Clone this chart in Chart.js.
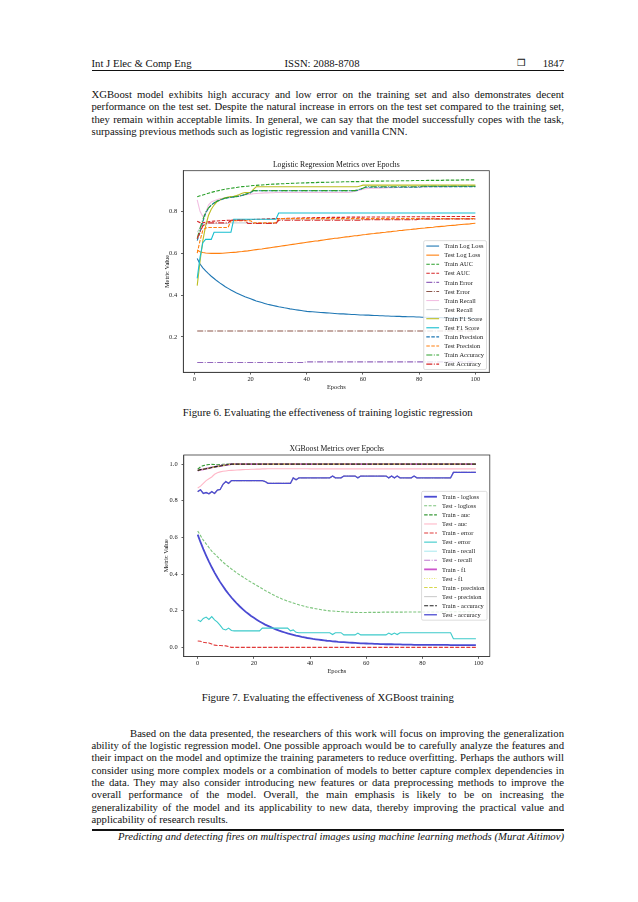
<!DOCTYPE html>
<html><head><meta charset="utf-8">
<script src="https://cdn.jsdelivr.net/npm/chart.js@4.4.1/dist/chart.umd.min.js"></script>
<style>
html,body{margin:0;padding:0;background:#fff}
body{width:638px;height:902px;position:relative;overflow:hidden;font-family:"Liberation Serif","Times New Roman",serif;color:#111}
.t{position:absolute;font-size:10.7px;line-height:12px;white-space:nowrap}
.rule{position:absolute;background:#111}
canvas{position:absolute}
</style></head>
<body>
<canvas id="c1" width="380" height="243" style="left:140px;top:152px;width:380px;height:243px"></canvas>
<canvas id="c2" width="380" height="243" style="left:140px;top:436px;width:380px;height:243px"></canvas>
<script>
// ---------------- DATA ----------------
const headerLeft = "Int J Elec & Comp Eng";
const headerMid = "ISSN: 2088-8708";
const headerPage = "1847";
const para1 = [
"XGBoost model exhibits high accuracy and low error on the training set and also demonstrates decent",
"performance on the test set. Despite the natural increase in errors on the test set compared to the training set,",
"they remain within acceptable limits. In general, we can say that the model successfully copes with the task,",
"surpassing previous methods such as logistic regression and vanilla CNN."];
const caption1 = "Figure 6. Evaluating the effectiveness of training logistic regression";
const caption2 = "Figure 7. Evaluating the effectiveness of XGBoost training";
const para2 = [
"Based on the data presented, the researchers of this work will focus on improving the generalization",
"ability of the logistic regression model. One possible approach would be to carefully analyze the features and",
"their impact on the model and optimize the training parameters to reduce overfitting. Perhaps the authors will",
"consider using more complex models or a combination of models to better capture complex dependencies in",
"the data. They may also consider introducing new features or data preprocessing methods to improve the",
"overall performance of the model. Overall, the main emphasis is likely to be on increasing the",
"generalizability of the model and its applicability to new data, thereby improving the practical value and",
"applicability of research results."];
const footerText = "Predicting and detecting fires on multispectral images using machine learning methods (Murat Aitimov)";

// Chart 1: Logistic Regression
const lrTitle = "Logistic Regression Metrics over Epochs";
const lrXTicks = [0,20,40,60,80,100];
const lrXTickLabels = ["0","20","40","60","80","100"];
const lrYTicks = [0.2,0.4,0.6,0.8];
const lrYTickLabels = ["0.2","0.4","0.6","0.8"];
const lrLabels = ["Train Log Loss","Test Log Loss","Train AUC","Test AUC","Train Error","Test Error","Train Recall","Test Recall","Train F1 Score","Test F1 Score","Train Precision","Test Precision","Train Accuracy","Test Accuracy"];
const lrEpochs = [1,2,3,4,5,6,7,8,9,10,11,12,13,14,15,16,17,18,19,20,21,22,23,24,25,26,27,28,29,30,31,32,33,34,35,36,37,38,39,40,41,42,43,44,45,46,47,48,49,50,51,52,53,54,55,56,57,58,59,60,61,62,63,64,65,66,67,68,69,70,71,72,73,74,75,76,77,78,79,80,81,82,83,84,85,86,87,88,89,90,91,92,93,94,95,96,97,98,99,100];
const lrTrainLogLoss = [0.575,0.548,0.530,0.515,0.502,0.490,0.479,0.468,0.458,0.449,0.440,0.432,0.424,0.417,0.410,0.404,0.398,0.392,0.387,0.382,0.377,0.372,0.368,0.364,0.360,0.356,0.353,0.350,0.347,0.344,0.342,0.339,0.337,0.334,0.332,0.330,0.328,0.326,0.324,0.322,0.321,0.320,0.319,0.318,0.317,0.316,0.315,0.314,0.313,0.312,0.311,0.310,0.310,0.309,0.308,0.307,0.307,0.306,0.305,0.305,0.304,0.304,0.303,0.302,0.302,0.301,0.301,0.300,0.300,0.299,0.299,0.298,0.298,0.297,0.297,0.296,0.296,0.296,0.295,0.295,0.294,0.294,0.294,0.293,0.293,0.292,0.292,0.292,0.291,0.291,0.291,0.290,0.290,0.290,0.289,0.289,0.289,0.288,0.288,0.288];
const lrTestLogLoss = [0.615,0.607,0.603,0.601,0.600,0.599,0.599,0.599,0.599,0.600,0.601,0.602,0.603,0.604,0.605,0.607,0.608,0.610,0.611,0.613,0.615,0.617,0.619,0.620,0.622,0.624,0.626,0.628,0.630,0.632,0.634,0.636,0.638,0.640,0.642,0.644,0.646,0.648,0.650,0.652,0.654,0.656,0.658,0.659,0.661,0.663,0.665,0.667,0.669,0.671,0.672,0.674,0.676,0.678,0.679,0.681,0.683,0.684,0.686,0.688,0.689,0.691,0.693,0.694,0.696,0.697,0.699,0.700,0.702,0.703,0.705,0.706,0.708,0.709,0.711,0.712,0.713,0.715,0.716,0.718,0.719,0.720,0.722,0.723,0.724,0.726,0.727,0.728,0.729,0.731,0.732,0.733,0.734,0.736,0.737,0.738,0.739,0.740,0.742,0.743];
const lrTrainAuc = [0.870,0.874,0.878,0.882,0.886,0.890,0.894,0.897,0.900,0.903,0.906,0.908,0.910,0.912,0.914,0.916,0.918,0.919,0.920,0.922,0.923,0.924,0.925,0.926,0.927,0.928,0.929,0.930,0.930,0.931,0.932,0.932,0.933,0.933,0.934,0.934,0.935,0.935,0.936,0.936,0.937,0.937,0.937,0.938,0.938,0.938,0.939,0.939,0.939,0.940,0.940,0.940,0.941,0.941,0.941,0.942,0.942,0.942,0.942,0.943,0.943,0.943,0.943,0.944,0.944,0.944,0.944,0.945,0.945,0.945,0.945,0.945,0.946,0.946,0.946,0.946,0.946,0.947,0.947,0.947,0.947,0.947,0.948,0.948,0.948,0.948,0.948,0.948,0.949,0.949,0.949,0.949,0.949,0.949,0.950,0.950,0.950,0.950,0.950,0.950];
const lrTestAuc = [0.752,0.746,0.745,0.748,0.750,0.752,0.753,0.754,0.755,0.756,0.756,0.757,0.757,0.758,0.758,0.759,0.759,0.760,0.760,0.761,0.761,0.762,0.762,0.763,0.763,0.764,0.764,0.765,0.765,0.766,0.766,0.766,0.767,0.767,0.767,0.768,0.768,0.768,0.769,0.769,0.769,0.769,0.770,0.770,0.770,0.770,0.770,0.771,0.771,0.771,0.771,0.771,0.771,0.772,0.772,0.772,0.772,0.772,0.772,0.772,0.773,0.773,0.773,0.773,0.773,0.773,0.773,0.773,0.773,0.773,0.773,0.773,0.774,0.774,0.774,0.774,0.774,0.774,0.774,0.774,0.774,0.774,0.774,0.774,0.774,0.775,0.775,0.775,0.775,0.775,0.775,0.775,0.775,0.775,0.775,0.775,0.775,0.775,0.775,0.775];
const lrTrainError = [0.078,0.078,0.078,0.078,0.078,0.078,0.078,0.078,0.078,0.078,0.078,0.078,0.078,0.078,0.078,0.078,0.078,0.078,0.078,0.078,0.078,0.078,0.078,0.078,0.078,0.078,0.078,0.078,0.078,0.078,0.078,0.078,0.078,0.078,0.078,0.078,0.078,0.078,0.078,0.081,0.081,0.081,0.081,0.081,0.081,0.081,0.081,0.081,0.081,0.081,0.081,0.081,0.081,0.081,0.081,0.081,0.081,0.081,0.081,0.081,0.081,0.081,0.081,0.081,0.081,0.081,0.081,0.081,0.081,0.081,0.081,0.081,0.081,0.081,0.081,0.081,0.081,0.081,0.081,0.081,0.081,0.081,0.081,0.081,0.081,0.081,0.081,0.081,0.081,0.081,0.081,0.081,0.081,0.081,0.081,0.081,0.081,0.081,0.081,0.081];
const lrTestError = [0.228,0.228,0.228,0.228,0.228,0.228,0.228,0.228,0.228,0.228,0.228,0.228,0.228,0.228,0.228,0.228,0.228,0.228,0.228,0.228,0.228,0.228,0.228,0.228,0.228,0.228,0.228,0.228,0.228,0.228,0.228,0.228,0.228,0.228,0.228,0.228,0.228,0.228,0.228,0.228,0.228,0.228,0.228,0.228,0.228,0.228,0.228,0.228,0.228,0.228,0.228,0.228,0.228,0.228,0.228,0.228,0.228,0.228,0.228,0.228,0.228,0.228,0.228,0.228,0.228,0.228,0.228,0.228,0.228,0.228,0.228,0.228,0.228,0.228,0.228,0.228,0.228,0.228,0.228,0.228,0.228,0.228,0.228,0.228,0.228,0.228,0.228,0.228,0.228,0.228,0.228,0.228,0.228,0.228,0.228,0.228,0.228,0.228,0.228,0.228];
const lrTrainRecall = [0.855,0.800,0.775,0.790,0.830,0.845,0.850,0.855,0.860,0.862,0.865,0.867,0.868,0.870,0.872,0.874,0.876,0.878,0.880,0.882,0.884,0.885,0.886,0.887,0.888,0.888,0.889,0.889,0.890,0.890,0.890,0.890,0.890,0.890,0.890,0.890,0.890,0.890,0.890,0.890,0.890,0.890,0.890,0.890,0.890,0.890,0.890,0.890,0.890,0.890,0.890,0.890,0.890,0.890,0.890,0.892,0.895,0.898,0.902,0.906,0.908,0.909,0.910,0.910,0.911,0.911,0.912,0.912,0.913,0.913,0.913,0.914,0.914,0.914,0.915,0.915,0.915,0.915,0.916,0.916,0.916,0.916,0.917,0.917,0.917,0.917,0.918,0.918,0.918,0.918,0.918,0.919,0.919,0.919,0.919,0.919,0.920,0.920,0.920,0.920];
const lrTestRecall = [0.700,0.720,0.735,0.740,0.742,0.742,0.742,0.742,0.742,0.742,0.742,0.742,0.745,0.745,0.745,0.745,0.745,0.745,0.745,0.745,0.745,0.745,0.745,0.745,0.745,0.745,0.745,0.745,0.745,0.762,0.762,0.762,0.762,0.762,0.762,0.762,0.762,0.762,0.762,0.762,0.762,0.762,0.762,0.762,0.762,0.762,0.762,0.762,0.762,0.762,0.762,0.762,0.762,0.762,0.762,0.762,0.762,0.762,0.762,0.762,0.762,0.762,0.762,0.762,0.762,0.762,0.762,0.762,0.762,0.762,0.762,0.762,0.762,0.762,0.762,0.762,0.762,0.762,0.762,0.762,0.762,0.762,0.762,0.762,0.762,0.762,0.762,0.762,0.765,0.765,0.765,0.765,0.765,0.765,0.765,0.765,0.765,0.765,0.765,0.765];
const lrTrainF1 = [0.445,0.560,0.660,0.730,0.780,0.810,0.830,0.845,0.853,0.860,0.865,0.868,0.870,0.872,0.876,0.880,0.886,0.890,0.890,0.890,0.905,0.917,0.917,0.917,0.917,0.917,0.917,0.917,0.917,0.917,0.917,0.917,0.917,0.917,0.917,0.917,0.917,0.917,0.917,0.917,0.917,0.917,0.917,0.917,0.917,0.917,0.917,0.917,0.917,0.917,0.917,0.917,0.917,0.917,0.917,0.917,0.917,0.917,0.921,0.925,0.925,0.925,0.925,0.925,0.925,0.925,0.925,0.925,0.925,0.925,0.925,0.925,0.925,0.925,0.925,0.925,0.925,0.925,0.925,0.925,0.925,0.925,0.925,0.925,0.925,0.925,0.925,0.925,0.925,0.925,0.925,0.925,0.925,0.925,0.925,0.925,0.925,0.925,0.925,0.925];
const lrTestF1 = [0.480,0.580,0.650,0.666,0.666,0.666,0.700,0.700,0.700,0.700,0.700,0.700,0.700,0.762,0.762,0.762,0.762,0.762,0.762,0.762,0.762,0.762,0.762,0.762,0.762,0.762,0.762,0.762,0.762,0.792,0.792,0.792,0.792,0.792,0.792,0.792,0.792,0.792,0.792,0.792,0.792,0.792,0.792,0.792,0.792,0.792,0.792,0.792,0.792,0.792,0.792,0.792,0.792,0.792,0.792,0.792,0.792,0.792,0.792,0.792,0.792,0.792,0.792,0.792,0.792,0.792,0.792,0.792,0.792,0.792,0.792,0.792,0.792,0.792,0.792,0.792,0.792,0.792,0.792,0.792,0.792,0.792,0.792,0.792,0.792,0.792,0.792,0.792,0.792,0.792,0.792,0.792,0.792,0.792,0.792,0.792,0.792,0.792,0.792,0.792];
const lrTrainPrecision = [0.660,0.700,0.750,0.790,0.815,0.830,0.840,0.848,0.853,0.858,0.862,0.865,0.866,0.868,0.870,0.872,0.876,0.880,0.885,0.890,0.898,0.898,0.898,0.898,0.898,0.898,0.898,0.898,0.898,0.898,0.898,0.898,0.898,0.898,0.898,0.898,0.898,0.898,0.898,0.898,0.898,0.898,0.898,0.898,0.898,0.898,0.898,0.898,0.898,0.898,0.898,0.898,0.898,0.898,0.898,0.898,0.898,0.900,0.905,0.910,0.915,0.915,0.915,0.915,0.915,0.915,0.915,0.915,0.915,0.915,0.915,0.915,0.915,0.915,0.915,0.915,0.915,0.915,0.915,0.915,0.918,0.918,0.918,0.918,0.918,0.918,0.918,0.918,0.918,0.918,0.918,0.918,0.918,0.918,0.918,0.918,0.918,0.918,0.918,0.918];
const lrTestPrecision = [0.600,0.660,0.710,0.720,0.723,0.723,0.723,0.723,0.723,0.723,0.723,0.723,0.755,0.755,0.755,0.755,0.755,0.755,0.755,0.755,0.745,0.745,0.745,0.745,0.745,0.745,0.745,0.745,0.745,0.765,0.765,0.765,0.765,0.765,0.765,0.765,0.765,0.765,0.765,0.765,0.765,0.765,0.765,0.765,0.765,0.765,0.765,0.765,0.765,0.765,0.765,0.765,0.765,0.765,0.765,0.765,0.765,0.765,0.765,0.765,0.765,0.765,0.765,0.765,0.765,0.765,0.765,0.765,0.765,0.765,0.765,0.765,0.765,0.765,0.765,0.765,0.765,0.765,0.765,0.765,0.765,0.765,0.765,0.765,0.765,0.765,0.765,0.765,0.765,0.765,0.765,0.765,0.765,0.765,0.765,0.765,0.765,0.765,0.765,0.765];
const lrTrainAccuracy = [0.670,0.720,0.760,0.795,0.815,0.830,0.840,0.848,0.855,0.860,0.863,0.866,0.867,0.869,0.871,0.873,0.876,0.880,0.885,0.888,0.899,0.899,0.899,0.899,0.899,0.899,0.899,0.899,0.899,0.899,0.899,0.899,0.899,0.899,0.899,0.899,0.899,0.899,0.899,0.899,0.899,0.899,0.899,0.899,0.899,0.899,0.899,0.899,0.899,0.899,0.899,0.899,0.899,0.899,0.899,0.899,0.899,0.902,0.906,0.910,0.917,0.917,0.917,0.917,0.917,0.917,0.917,0.917,0.917,0.917,0.917,0.917,0.917,0.917,0.917,0.917,0.917,0.917,0.917,0.917,0.920,0.920,0.920,0.920,0.920,0.920,0.920,0.920,0.920,0.920,0.920,0.920,0.920,0.920,0.920,0.920,0.920,0.920,0.920,0.920];
const lrTestAccuracy = [0.670,0.700,0.730,0.740,0.745,0.745,0.745,0.745,0.745,0.745,0.745,0.745,0.757,0.757,0.757,0.757,0.757,0.757,0.742,0.742,0.742,0.742,0.742,0.742,0.742,0.742,0.742,0.742,0.742,0.757,0.757,0.757,0.757,0.757,0.757,0.757,0.757,0.757,0.757,0.757,0.757,0.757,0.757,0.757,0.757,0.757,0.757,0.757,0.757,0.757,0.757,0.757,0.757,0.757,0.757,0.757,0.757,0.757,0.757,0.760,0.760,0.760,0.760,0.760,0.760,0.760,0.760,0.760,0.760,0.760,0.760,0.760,0.760,0.760,0.760,0.760,0.760,0.760,0.760,0.763,0.763,0.763,0.763,0.763,0.763,0.763,0.763,0.763,0.763,0.763,0.763,0.763,0.763,0.763,0.763,0.763,0.763,0.763,0.763,0.763];

// Chart 2: XGBoost
const xgbTitle = "XGBoost Metrics over Epochs";
const xgbXTicks = [0,20,40,60,80,100];
const xgbXTickLabels = ["0","20","40","60","80","100"];
const xgbYTicks = [0,0.2,0.4,0.6,0.8,1.0];
const xgbYTickLabels = ["0.0","0.2","0.4","0.6","0.8","1.0"];
const xgbLabels = ["Train - logloss","Test - logloss","Train - auc","Test - auc","Train - error","Test - error","Train - recall","Test - recall","Train - f1","Test - f1","Train - precision","Test - precision","Train - accuracy","Test - accuracy"];
const xgbEpochs = [0,1,2,3,4,5,6,7,8,9,10,11,12,13,14,15,16,17,18,19,20,21,22,23,24,25,26,27,28,29,30,31,32,33,34,35,36,37,38,39,40,41,42,43,44,45,46,47,48,49,50,51,52,53,54,55,56,57,58,59,60,61,62,63,64,65,66,67,68,69,70,71,72,73,74,75,76,77,78,79,80,81,82,83,84,85,86,87,88,89,90,91,92,93,94,95,96,97,98,99];
const xgbTrainLogloss = [0.615,0.574,0.536,0.501,0.468,0.437,0.408,0.381,0.356,0.333,0.311,0.291,0.272,0.255,0.238,0.223,0.209,0.195,0.183,0.171,0.161,0.151,0.141,0.133,0.124,0.117,0.110,0.103,0.097,0.091,0.086,0.081,0.076,0.072,0.068,0.064,0.061,0.057,0.054,0.051,0.049,0.046,0.044,0.042,0.040,0.038,0.036,0.035,0.033,0.032,0.030,0.029,0.028,0.027,0.026,0.025,0.024,0.023,0.022,0.022,0.021,0.020,0.020,0.019,0.019,0.018,0.018,0.017,0.017,0.017,0.016,0.016,0.016,0.015,0.015,0.015,0.015,0.014,0.014,0.014,0.014,0.014,0.013,0.013,0.013,0.013,0.013,0.013,0.013,0.013,0.012,0.012,0.012,0.012,0.012,0.012,0.012,0.012,0.012,0.012];
const xgbTestLogloss = [0.635,0.610,0.585,0.565,0.545,0.525,0.510,0.495,0.480,0.465,0.452,0.440,0.428,0.417,0.405,0.395,0.385,0.375,0.365,0.356,0.347,0.338,0.329,0.320,0.310,0.302,0.294,0.286,0.278,0.271,0.264,0.258,0.252,0.247,0.242,0.237,0.232,0.228,0.224,0.220,0.217,0.214,0.211,0.208,0.205,0.203,0.201,0.199,0.198,0.197,0.196,0.195,0.194,0.193,0.192,0.191,0.191,0.190,0.190,0.190,0.190,0.191,0.191,0.191,0.191,0.191,0.192,0.192,0.192,0.192,0.192,0.192,0.192,0.192,0.193,0.193,0.193,0.193,0.193,0.193,0.193,0.193,0.193,0.193,0.193,0.193,0.193,0.194,0.194,0.194,0.194,0.194,0.194,0.194,0.194,0.194,0.194,0.194,0.194,0.194];
const xgbTrainAuc = [0.972,0.985,0.992,0.996,0.998,0.999,0.998,0.997,0.998,0.999,1.000,1.000,1.000,1.000,1.000,1.000,1.000,1.000,1.000,1.000,1.000,1.000,1.000,1.000,1.000,1.000,1.000,1.000,1.000,1.000,1.000,1.000,1.000,1.000,1.000,1.000,1.000,1.000,1.000,1.000,1.000,1.000,1.000,1.000,1.000,1.000,1.000,1.000,1.000,1.000,1.000,1.000,1.000,1.000,1.000,1.000,1.000,1.000,1.000,1.000,1.000,1.000,1.000,1.000,1.000,1.000,1.000,1.000,1.000,1.000,1.000,1.000,1.000,1.000,1.000,1.000,1.000,1.000,1.000,1.000,1.000,1.000,1.000,1.000,1.000,1.000,1.000,1.000,1.000,1.000,1.000,1.000,1.000,1.000,1.000,1.000,1.000,1.000,1.000,1.000];
const xgbTestAuc = [0.870,0.880,0.895,0.910,0.920,0.930,0.945,0.953,0.958,0.961,0.963,0.965,0.966,0.967,0.968,0.969,0.970,0.971,0.971,0.972,0.972,0.973,0.973,0.974,0.974,0.975,0.975,0.975,0.975,0.975,0.975,0.975,0.975,0.975,0.975,0.975,0.975,0.975,0.975,0.975,0.974,0.974,0.974,0.974,0.974,0.974,0.974,0.974,0.974,0.974,0.974,0.974,0.974,0.974,0.974,0.974,0.974,0.974,0.974,0.974,0.974,0.974,0.974,0.974,0.974,0.974,0.974,0.974,0.974,0.974,0.974,0.974,0.974,0.974,0.974,0.974,0.974,0.974,0.974,0.974,0.974,0.974,0.974,0.974,0.974,0.974,0.974,0.974,0.974,0.974,0.974,0.974,0.974,0.974,0.974,0.974,0.974,0.974,0.974,0.974];
const xgbTrainError = [0.035,0.033,0.028,0.025,0.024,0.018,0.012,0.010,0.010,0.009,0.008,0.004,0.000,0.000,0.000,0.000,0.000,0.000,0.000,0.000,0.000,0.000,0.000,0.000,0.000,0.000,0.000,0.000,0.000,0.000,0.000,0.000,0.000,0.000,0.000,0.000,0.000,0.000,0.000,0.000,0.000,0.000,0.000,0.000,0.000,0.000,0.000,0.000,0.000,0.000,0.000,0.000,0.000,0.000,0.000,0.000,0.000,0.000,0.000,0.000,0.000,0.000,0.000,0.000,0.000,0.000,0.000,0.000,0.000,0.000,0.000,0.000,0.000,0.000,0.000,0.000,0.000,0.000,0.000,0.000,0.000,0.000,0.000,0.000,0.000,0.000,0.000,0.000,0.000,0.000,0.000,0.000,0.000,0.000,0.000,0.000,0.000,0.000,0.000,0.000];
const xgbTestError = [0.150,0.141,0.158,0.165,0.152,0.168,0.150,0.138,0.120,0.100,0.095,0.105,0.092,0.090,0.090,0.090,0.090,0.090,0.090,0.090,0.090,0.090,0.090,0.105,0.105,0.105,0.105,0.105,0.105,0.105,0.105,0.105,0.105,0.090,0.095,0.082,0.080,0.080,0.080,0.080,0.080,0.080,0.080,0.080,0.080,0.080,0.080,0.080,0.070,0.080,0.080,0.080,0.068,0.068,0.068,0.068,0.068,0.078,0.068,0.068,0.068,0.068,0.068,0.068,0.068,0.068,0.068,0.068,0.078,0.070,0.078,0.070,0.080,0.080,0.080,0.080,0.080,0.080,0.080,0.080,0.080,0.080,0.080,0.080,0.080,0.080,0.080,0.080,0.080,0.080,0.080,0.047,0.047,0.047,0.047,0.047,0.047,0.047,0.047,0.047];
const xgbTrainRecall = [0.965,0.970,0.972,0.975,0.978,0.982,0.985,0.988,0.990,0.993,0.995,0.998,1.000,1.000,1.000,1.000,1.000,1.000,1.000,1.000,1.000,1.000,1.000,1.000,1.000,1.000,1.000,1.000,1.000,1.000,1.000,1.000,1.000,1.000,1.000,1.000,1.000,1.000,1.000,1.000,1.000,1.000,1.000,1.000,1.000,1.000,1.000,1.000,1.000,1.000,1.000,1.000,1.000,1.000,1.000,1.000,1.000,1.000,1.000,1.000,1.000,1.000,1.000,1.000,1.000,1.000,1.000,1.000,1.000,1.000,1.000,1.000,1.000,1.000,1.000,1.000,1.000,1.000,1.000,1.000,1.000,1.000,1.000,1.000,1.000,1.000,1.000,1.000,1.000,1.000,1.000,1.000,1.000,1.000,1.000,1.000,1.000,1.000,1.000,1.000];
const xgbTestRecall = [0.850,0.860,0.840,0.845,0.838,0.850,0.840,0.858,0.862,0.890,0.905,0.895,0.910,0.910,0.910,0.910,0.910,0.910,0.910,0.910,0.910,0.910,0.910,0.910,0.905,0.895,0.895,0.895,0.895,0.895,0.895,0.895,0.895,0.895,0.925,0.915,0.925,0.925,0.925,0.925,0.925,0.925,0.925,0.925,0.925,0.925,0.925,0.925,0.935,0.925,0.925,0.925,0.935,0.935,0.935,0.935,0.935,0.925,0.935,0.935,0.935,0.935,0.935,0.935,0.935,0.935,0.935,0.935,0.925,0.935,0.925,0.935,0.925,0.925,0.925,0.925,0.925,0.935,0.925,0.925,0.925,0.925,0.925,0.925,0.925,0.925,0.925,0.925,0.925,0.925,0.925,0.955,0.955,0.955,0.955,0.955,0.955,0.955,0.955,0.955];
const xgbTrainF1 = [0.965,0.970,0.972,0.975,0.978,0.982,0.985,0.988,0.990,0.993,0.995,0.998,1.000,1.000,1.000,1.000,1.000,1.000,1.000,1.000,1.000,1.000,1.000,1.000,1.000,1.000,1.000,1.000,1.000,1.000,1.000,1.000,1.000,1.000,1.000,1.000,1.000,1.000,1.000,1.000,1.000,1.000,1.000,1.000,1.000,1.000,1.000,1.000,1.000,1.000,1.000,1.000,1.000,1.000,1.000,1.000,1.000,1.000,1.000,1.000,1.000,1.000,1.000,1.000,1.000,1.000,1.000,1.000,1.000,1.000,1.000,1.000,1.000,1.000,1.000,1.000,1.000,1.000,1.000,1.000,1.000,1.000,1.000,1.000,1.000,1.000,1.000,1.000,1.000,1.000,1.000,1.000,1.000,1.000,1.000,1.000,1.000,1.000,1.000,1.000];
const xgbTestF1 = [0.850,0.860,0.840,0.845,0.838,0.850,0.840,0.858,0.862,0.890,0.905,0.895,0.910,0.910,0.910,0.910,0.910,0.910,0.910,0.910,0.910,0.910,0.910,0.910,0.905,0.895,0.895,0.895,0.895,0.895,0.895,0.895,0.895,0.895,0.925,0.915,0.925,0.925,0.925,0.925,0.925,0.925,0.925,0.925,0.925,0.925,0.925,0.925,0.935,0.925,0.925,0.925,0.935,0.935,0.935,0.935,0.935,0.925,0.935,0.935,0.935,0.935,0.935,0.935,0.935,0.935,0.935,0.935,0.925,0.935,0.925,0.935,0.925,0.925,0.925,0.925,0.925,0.935,0.925,0.925,0.925,0.925,0.925,0.925,0.925,0.925,0.925,0.925,0.925,0.925,0.925,0.955,0.955,0.955,0.955,0.955,0.955,0.955,0.955,0.955];
const xgbTrainPrecision = [0.965,0.970,0.972,0.975,0.978,0.982,0.985,0.988,0.990,0.993,0.995,0.998,1.000,1.000,1.000,1.000,1.000,1.000,1.000,1.000,1.000,1.000,1.000,1.000,1.000,1.000,1.000,1.000,1.000,1.000,1.000,1.000,1.000,1.000,1.000,1.000,1.000,1.000,1.000,1.000,1.000,1.000,1.000,1.000,1.000,1.000,1.000,1.000,1.000,1.000,1.000,1.000,1.000,1.000,1.000,1.000,1.000,1.000,1.000,1.000,1.000,1.000,1.000,1.000,1.000,1.000,1.000,1.000,1.000,1.000,1.000,1.000,1.000,1.000,1.000,1.000,1.000,1.000,1.000,1.000,1.000,1.000,1.000,1.000,1.000,1.000,1.000,1.000,1.000,1.000,1.000,1.000,1.000,1.000,1.000,1.000,1.000,1.000,1.000,1.000];
const xgbTestPrecision = [0.850,0.860,0.840,0.845,0.838,0.850,0.840,0.858,0.862,0.890,0.905,0.895,0.910,0.910,0.910,0.910,0.910,0.910,0.910,0.910,0.910,0.910,0.910,0.910,0.905,0.895,0.895,0.895,0.895,0.895,0.895,0.895,0.895,0.895,0.925,0.915,0.925,0.925,0.925,0.925,0.925,0.925,0.925,0.925,0.925,0.925,0.925,0.925,0.935,0.925,0.925,0.925,0.935,0.935,0.935,0.935,0.935,0.925,0.935,0.935,0.935,0.935,0.935,0.935,0.935,0.935,0.935,0.935,0.925,0.935,0.925,0.935,0.925,0.925,0.925,0.925,0.925,0.935,0.925,0.925,0.925,0.925,0.925,0.925,0.925,0.925,0.925,0.925,0.925,0.925,0.925,0.955,0.955,0.955,0.955,0.955,0.955,0.955,0.955,0.955];
const xgbTrainAccuracy = [0.965,0.970,0.972,0.975,0.978,0.982,0.985,0.988,0.990,0.993,0.995,0.998,1.000,1.000,1.000,1.000,1.000,1.000,1.000,1.000,1.000,1.000,1.000,1.000,1.000,1.000,1.000,1.000,1.000,1.000,1.000,1.000,1.000,1.000,1.000,1.000,1.000,1.000,1.000,1.000,1.000,1.000,1.000,1.000,1.000,1.000,1.000,1.000,1.000,1.000,1.000,1.000,1.000,1.000,1.000,1.000,1.000,1.000,1.000,1.000,1.000,1.000,1.000,1.000,1.000,1.000,1.000,1.000,1.000,1.000,1.000,1.000,1.000,1.000,1.000,1.000,1.000,1.000,1.000,1.000,1.000,1.000,1.000,1.000,1.000,1.000,1.000,1.000,1.000,1.000,1.000,1.000,1.000,1.000,1.000,1.000,1.000,1.000,1.000,1.000];
const xgbTestAccuracy = [0.850,0.860,0.840,0.845,0.838,0.850,0.840,0.858,0.862,0.890,0.905,0.895,0.910,0.910,0.910,0.910,0.910,0.910,0.910,0.910,0.910,0.910,0.910,0.910,0.905,0.895,0.895,0.895,0.895,0.895,0.895,0.895,0.895,0.895,0.925,0.915,0.925,0.925,0.925,0.925,0.925,0.925,0.925,0.925,0.925,0.925,0.925,0.925,0.935,0.925,0.925,0.925,0.935,0.935,0.935,0.935,0.935,0.925,0.935,0.935,0.935,0.935,0.935,0.935,0.935,0.935,0.935,0.935,0.925,0.935,0.925,0.935,0.925,0.925,0.925,0.925,0.925,0.935,0.925,0.925,0.925,0.925,0.925,0.925,0.925,0.925,0.925,0.925,0.925,0.925,0.925,0.955,0.955,0.955,0.955,0.955,0.955,0.955,0.955,0.955];

// ---------------- PAGE TEXT ----------------
const COL_L = 91.5, COL_R = 564;
function addText(txt, opts) {
  const d = document.createElement('div');
  d.className = 't';
  d.textContent = txt;
  if (opts.italic) d.style.fontStyle = 'italic';
  if (opts.size) d.style.fontSize = opts.size + 'px';
  if (opts.font) d.style.fontFamily = opts.font;
  d.style.top = (opts.cy - 6.6) + 'px';
  document.body.appendChild(d);
  const w = d.getBoundingClientRect().width;
  let left = opts.left;
  if (opts.justifyTo !== undefined) {
    const spaces = (txt.match(/ /g) || []).length;
    if (spaces) d.style.wordSpacing = ((opts.justifyTo - opts.left - w) / spaces) + 'px';
  } else if (opts.right !== undefined) left = opts.right - w;
  else if (opts.center !== undefined) left = opts.center - w / 2;
  d.style.left = left + 'px';
  return d;
}
function addRule(x, y, w, h) {
  const r = document.createElement('div');
  r.className = 'rule';
  r.style.left = x + 'px'; r.style.top = y + 'px'; r.style.width = w + 'px'; r.style.height = h + 'px';
  document.body.appendChild(r);
}
// header
const HY = 64;
addText(headerLeft, {cy: HY, left: COL_L});
addText(headerMid, {cy: HY, center: 322});
addText(headerPage, {cy: HY, right: COL_R});
addText("\u2752", {cy: HY, left: 517, size: 9.5, font: '"DejaVu Sans"'});
addRule(COL_L, 70, COL_R - COL_L, 1.3);
// paragraph 1
const p1y = [94.5, 106.8, 119.1, 131.4];
para1.forEach((ln, i) => addText(ln, i < para1.length - 1 ? {cy: p1y[i], left: COL_L, justifyTo: COL_R} : {cy: p1y[i], left: COL_L}));
// captions
addText(caption1, {cy: 412.5, center: (COL_L + COL_R) / 2});
addText(caption2, {cy: 697.5, center: (COL_L + COL_R) / 2});
// paragraph 2
const p2y = [733.3, 745.6, 757.9, 770.2, 782.5, 794.8, 807.1, 819.4];
para2.forEach((ln, i) => {
  const l = i === 0 ? 130 : COL_L;
  addText(ln, i < para2.length - 1 ? {cy: p2y[i], left: l, justifyTo: COL_R} : {cy: p2y[i], left: l});
});
addRule(COL_L, 828.8, COL_R - COL_L, 2);
addText(footerText, {cy: 836.5, right: COL_R, italic: true});

// ---------------- CHARTS ----------------
const FONT = '"Liberation Serif","Times New Roman",serif';
const frameTitleLegend = {
  id: 'frameTitleLegend',
  afterDatasetsDraw(chart, args, o) {
    const {ctx, chartArea: a} = chart;
    ctx.save();
    ctx.strokeStyle = '#3a3a3a'; ctx.lineWidth = 0.8; ctx.setLineDash([]);
    ctx.strokeRect(a.left, a.top, a.right - a.left, a.bottom - a.top);
    ctx.fillStyle = '#111';
    ctx.font = o.titleSize + 'px ' + FONT;
    ctx.textAlign = 'center'; ctx.textBaseline = 'alphabetic';
    ctx.fillText(o.title, (a.left + a.right) / 2, a.top - o.titleGap);
    const ds = chart.data.datasets;
    ctx.font = o.fontSize + 'px ' + FONT;
    let maxW = 0;
    ds.forEach(d => { maxW = Math.max(maxW, ctx.measureText(d.label).width); });
    const w = o.pad + o.handle + o.textPad + maxW + o.pad;
    const h = (ds.length - 1) * o.pitch + 2 * o.edge;
    const x = a.right - o.inset - w;
    const y = o.loc === 'center' ? (a.top + a.bottom) / 2 - h / 2 : a.bottom - o.inset - h;
    ctx.beginPath();
    if (ctx.roundRect) ctx.roundRect(x, y, w, h, 1.5); else ctx.rect(x, y, w, h);
    ctx.fillStyle = 'rgba(255,255,255,0.82)'; ctx.fill();
    ctx.strokeStyle = '#d4d4d4'; ctx.lineWidth = 0.8; ctx.stroke();
    ds.forEach((d, i) => {
      const cy = y + o.edge + i * o.pitch;
      ctx.strokeStyle = d.borderColor; ctx.lineWidth = d.borderWidth;
      ctx.setLineDash(d.borderDash || []);
      ctx.beginPath(); ctx.moveTo(x + o.pad, cy); ctx.lineTo(x + o.pad + o.handle, cy); ctx.stroke();
      ctx.setLineDash([]);
      ctx.fillStyle = '#1a1a1a'; ctx.textAlign = 'left'; ctx.textBaseline = 'middle';
      ctx.fillText(d.label, x + o.pad + o.handle + o.textPad, cy + 0.5);
    });
    ctx.restore();
  }
};

function buildDatasets(labels, xs, series, styles) {
  const n = series.length;
  return series.map((vals, i) => ({
    label: labels[i],
    data: xs.map((x, k) => ({x: x, y: vals[k]})),
    borderColor: styles[i].c,
    borderWidth: styles[i].w || 1.1,
    borderDash: styles[i].d || [],
    fill: false, pointRadius: 0, tension: 0,
    order: n - i
  }));
}

function makeChart(id, cfg) {
  const tickFont = {family: FONT, size: 6.4};
  return new Chart(document.getElementById(id), {
    type: 'line',
    data: {datasets: cfg.datasets},
    options: {
      responsive: false, animation: false, devicePixelRatio: 1,
      layout: {padding: {left: 0, right: cfg.padRight, top: cfg.padTop, bottom: 0}},
      plugins: {legend: {display: false}, tooltip: {enabled: false}, title: {display: false},
        frameTitleLegend: Object.assign({title: cfg.title, titleSize: 7.7, titleGap: 3.6, fontSize: 6.4,
          pad: 2.6, handle: 12.8, textPad: 5.1, pitch: 9.08, edge: 5.4, inset: 2.8}, cfg.legend)},
      scales: {
        x: {
          type: 'linear', min: cfg.xMin, max: cfg.xMax,
          afterBuildTicks: s => { s.ticks = cfg.xTicks.map(v => ({value: v})); },
          afterFit: s => { s.height = cfg.xAxisH; },
          ticks: {font: tickFont, color: '#1a1a1a', padding: 0.5, maxRotation: 0, autoSkip: false,
            callback: (v, i) => cfg.xTickLabels[i]},
          grid: {drawOnChartArea: false, drawTicks: true, tickLength: 2.3, tickColor: '#3a3a3a', lineWidth: 0.8},
          border: {display: true, color: '#3a3a3a', width: 0.8},
          title: {display: true, text: 'Epochs', font: tickFont, color: '#1a1a1a', padding: {top: 0, bottom: cfg.xTitlePad}}
        },
        y: {
          type: 'linear', min: cfg.yMin, max: cfg.yMax,
          afterBuildTicks: s => { s.ticks = cfg.yTicks.map(v => ({value: v})); },
          afterFit: s => { s.width = cfg.yAxisW; },
          ticks: {font: tickFont, color: '#1a1a1a', padding: 3.9, autoSkip: false,
            callback: (v, i) => cfg.yTickLabels[i]},
          grid: {drawOnChartArea: false, drawTicks: true, tickLength: 2.3, tickColor: '#3a3a3a', lineWidth: 0.8},
          border: {display: true, color: '#3a3a3a', width: 0.8},
          title: {display: true, text: 'Metric Value', font: tickFont, color: '#1a1a1a', padding: {top: cfg.yTitlePad, bottom: 0}}
        }
      }
    },
    plugins: [frameTitleLegend]
  });
}

const lrStyles = [
  {c: '#1f77b4'}, {c: '#ff7f0e'},
  {c: '#2ca02c', d: [3.5, 1.5]}, {c: '#d62728', d: [3.5, 1.5]},
  {c: '#9467bd', d: [6, 1.5, 1, 1.5]}, {c: '#8c564b', d: [6, 1.5, 1, 1.5]},
  {c: '#f2bfe2'}, {c: '#cfd3da'},
  {c: '#bcbd22'}, {c: '#17becf'},
  {c: '#1f77b4', d: [3.5, 1.5]}, {c: '#ff7f0e', d: [3.5, 1.5]},
  {c: '#2ca02c', d: [6, 1.5, 1, 1.5]}, {c: '#d62728', d: [6, 1.5, 1, 1.5]}
];
makeChart('c1', {
  datasets: buildDatasets(lrLabels, lrEpochs,
    [lrTrainLogLoss, lrTestLogLoss, lrTrainAuc, lrTestAuc, lrTrainError, lrTestError, lrTrainRecall, lrTestRecall,
     lrTrainF1, lrTestF1, lrTrainPrecision, lrTestPrecision, lrTrainAccuracy, lrTestAccuracy], lrStyles),
  title: lrTitle, xMin: -3.95, xMax: 104.95, yMin: 0.031, yMax: 0.994,
  xTicks: lrXTicks, xTickLabels: lrXTickLabels, yTicks: lrYTicks, yTickLabels: lrYTickLabels,
  padRight: 30.7, padTop: 18.7, xAxisH: 22.7, yAxisW: 43.3, xTitlePad: 4.2, yTitlePad: 23.2,
  legend: {loc: 'lower'}
});

const xgbStyles = [
  {c: '#4a4ad2', w: 1.8}, {c: '#7cc47c', d: [3, 1.5]},
  {c: '#3a9a3a', d: [3.5, 1.5]}, {c: '#ffb8c8'},
  {c: '#e03a3a', d: [4, 1.5]}, {c: '#3ccaca'},
  {c: '#aeeaf0'}, {c: '#c07ad0', d: [6, 1.5, 1, 1.5]},
  {c: '#cc55cc', w: 1.8}, {c: '#e6e66a', d: [1, 1.5]},
  {c: '#d6d64a', d: [3.5, 1.5]}, {c: '#cccccc'},
  {c: '#202020', d: [4, 1.5]}, {c: '#4d4dd2', w: 1.3}
];
makeChart('c2', {
  datasets: buildDatasets(xgbLabels, xgbEpochs,
    [xgbTrainLogloss, xgbTestLogloss, xgbTrainAuc, xgbTestAuc, xgbTrainError, xgbTestError, xgbTrainRecall, xgbTestRecall,
     xgbTrainF1, xgbTestF1, xgbTrainPrecision, xgbTestPrecision, xgbTrainAccuracy, xgbTestAccuracy], xgbStyles),
  title: xgbTitle, xMin: -4.95, xMax: 103.95, yMin: -0.05, yMax: 1.05,
  xTicks: xgbXTicks, xTickLabels: xgbXTickLabels, yTicks: xgbYTicks, yTickLabels: xgbYTickLabels,
  padRight: 30.2, padTop: 19, xAxisH: 22.5, yAxisW: 43.8, xTitlePad: 4.0, yTitlePad: 22.9,
  legend: {loc: 'center'}
});
</script>
</body></html>
